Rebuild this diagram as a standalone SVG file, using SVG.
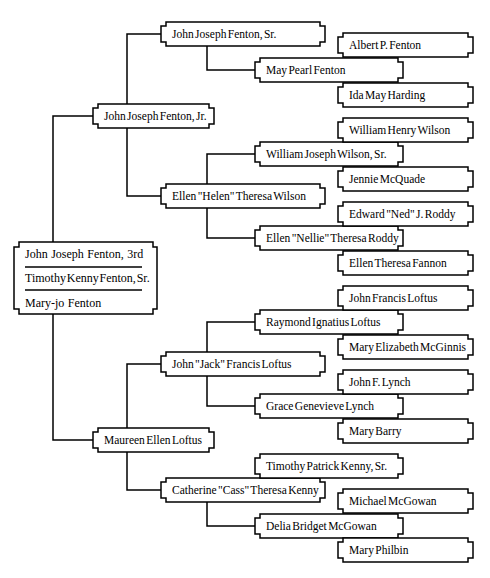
<svg xmlns="http://www.w3.org/2000/svg" width="490" height="578" viewBox="0 0 490 578">
<style>
.b{fill:#fff;stroke:#000;stroke-width:1.5}
.c{fill:none;stroke:#000;stroke-width:1.5}
text{font-family:"Liberation Serif","Times New Roman",serif;font-size:11.5px;fill:#000;word-spacing:-1.5px}
.r{font-size:12px;word-spacing:0.5px}
.r2{font-size:12px;word-spacing:-2.2px}
</style>
<rect width="490" height="578" fill="#fff"/>
<g id="connectors">
<path class="c" d="M53,242V116H93"/>
<path class="c" d="M53,314V440H93"/>
<path class="c" d="M127,104V34H161"/>
<path class="c" d="M127,128V196H161"/>
<path class="c" d="M127,428V364H161"/>
<path class="c" d="M127,452V490H161"/>
<path class="c" d="M207,46V70H255"/>
<path class="c" d="M207,184V154H255"/>
<path class="c" d="M207,208V238H255"/>
<path class="c" d="M207,352V322H255"/>
<path class="c" d="M207,376V406H255"/>
<path class="c" d="M207,502V526H255"/>
</g>
<g id="root">
<path class="b" d="M19,242H153V247H157V309H153V314H19V309H14V247H19Z"/>
<line x1="25" y1="267" x2="142" y2="267" stroke="#000" stroke-width="1.5"/>
<line x1="25" y1="290" x2="142" y2="290" stroke="#000" stroke-width="1.5"/>
<text class="r" x="25" y="258">John Joseph Fenton, 3rd</text>
<text class="r2" x="25" y="282">Timothy Kenny Fenton, Sr.</text>
<text class="r" x="25" y="307">Mary-jo Fenton</text>
</g>
<g id="jjf-jr">
<path class="b" d="M98,104H209V108H214V124H209V128H98V124H93V108H98Z"/>
<text x="104" y="120">John Joseph Fenton, Jr.</text>
</g>
<g id="maureen">
<path class="b" d="M98,428H209V432H214V448H209V452H98V448H93V432H98Z"/>
<text x="104" y="444">Maureen Ellen Loftus</text>
</g>
<g id="jjf-sr">
<path class="b" d="M166,22H320V26H325V42H320V46H166V42H161V26H166Z"/>
<text x="172" y="38">John Joseph Fenton, Sr.</text>
</g>
<g id="helen">
<path class="b" d="M166,184H320V188H325V204H320V208H166V204H161V188H166Z"/>
<text x="172" y="200">Ellen "Helen" Theresa Wilson</text>
</g>
<g id="jack">
<path class="b" d="M166,352H320V356H325V372H320V376H166V372H161V356H166Z"/>
<text x="172" y="368">John "Jack" Francis Loftus</text>
</g>
<g id="cass">
<path class="b" d="M166,478H320V482H325V498H320V502H166V498H161V482H166Z"/>
<text x="172" y="494">Catherine "Cass" Theresa Kenny</text>
</g>
<g id="may-pearl">
<path class="b" d="M260,58H398V62H403V78H398V82H260V78H255V62H260Z"/>
<text x="266" y="74">May Pearl Fenton</text>
</g>
<g id="wjw-sr">
<path class="b" d="M260,142H398V146H403V162H398V166H260V162H255V146H260Z"/>
<text x="266" y="158">William Joseph Wilson, Sr.</text>
</g>
<g id="nellie">
<path class="b" d="M260,226H398V230H403V246H398V250H260V246H255V230H260Z"/>
<text x="266" y="242">Ellen "Nellie" Theresa Roddy</text>
</g>
<g id="raymond">
<path class="b" d="M260,310H398V314H403V330H398V334H260V330H255V314H260Z"/>
<text x="266" y="326">Raymond Ignatius Loftus</text>
</g>
<g id="grace">
<path class="b" d="M260,394H398V398H403V414H398V418H260V414H255V398H260Z"/>
<text x="266" y="410">Grace Genevieve Lynch</text>
</g>
<g id="timothy-pk">
<path class="b" d="M260,454H398V458H403V474H398V478H260V474H255V458H260Z"/>
<text x="266" y="470">Timothy Patrick Kenny, Sr.</text>
</g>
<g id="delia">
<path class="b" d="M260,514H398V518H403V534H398V538H260V534H255V518H260Z"/>
<text x="266" y="530">Delia Bridget McGowan</text>
</g>
<g id="albert">
<path class="b" d="M343,33H468V37H473V53H468V57H343V53H338V37H343Z"/>
<text x="349" y="49">Albert P. Fenton</text>
</g>
<g id="ida">
<path class="b" d="M343,83H468V87H473V103H468V107H343V103H338V87H343Z"/>
<text x="349" y="99">Ida May Harding</text>
</g>
<g id="whw">
<path class="b" d="M343,118H468V122H473V138H468V142H343V138H338V122H343Z"/>
<text x="349" y="134">William Henry Wilson</text>
</g>
<g id="jennie">
<path class="b" d="M343,167H468V171H473V187H468V191H343V187H338V171H343Z"/>
<text x="349" y="183">Jennie McQuade</text>
</g>
<g id="edward">
<path class="b" d="M343,202H468V206H473V222H468V226H343V222H338V206H343Z"/>
<text x="349" y="218">Edward "Ned" J. Roddy</text>
</g>
<g id="fannon">
<path class="b" d="M343,251H468V255H473V271H468V275H343V271H338V255H343Z"/>
<text x="349" y="267">Ellen Theresa Fannon</text>
</g>
<g id="jfl">
<path class="b" d="M343,286H468V290H473V306H468V310H343V306H338V290H343Z"/>
<text x="349" y="302">John Francis Loftus</text>
</g>
<g id="mcginnis">
<path class="b" d="M343,335H468V339H473V355H468V359H343V355H338V339H343Z"/>
<text x="349" y="351">Mary Elizabeth McGinnis</text>
</g>
<g id="lynch">
<path class="b" d="M343,370H468V374H473V390H468V394H343V390H338V374H343Z"/>
<text x="349" y="386">John F. Lynch</text>
</g>
<g id="barry">
<path class="b" d="M343,419H468V423H473V439H468V443H343V439H338V423H343Z"/>
<text x="349" y="435">Mary Barry</text>
</g>
<g id="michael">
<path class="b" d="M343,489H468V493H473V509H468V513H343V509H338V493H343Z"/>
<text x="349" y="505">Michael McGowan</text>
</g>
<g id="philbin">
<path class="b" d="M343,538H468V542H473V558H468V562H343V558H338V542H343Z"/>
<text x="349" y="554">Mary Philbin</text>
</g>
</svg>
